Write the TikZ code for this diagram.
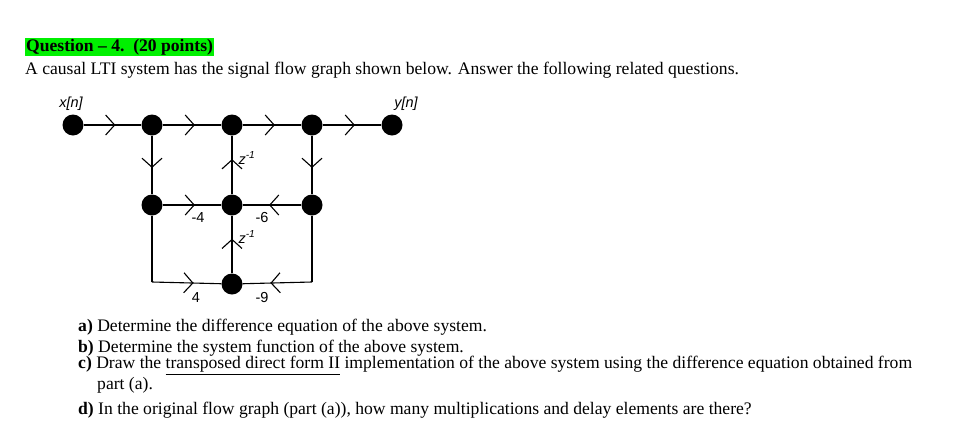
\documentclass[tikz,border=0pt]{standalone}
\usepackage{fontspec}
\setmainfont{Liberation Serif}
\newfontfamily\lsans{Liberation Sans}
\usetikzlibrary{arrows.meta,decorations.markings}
\begin{document}
\begin{tikzpicture}[x=1pt,y=-1pt,
  dot/.style={circle,fill=black,inner sep=0pt,minimum size=21pt},
  edge/.style={line width=1.1pt,postaction={decorate},decoration={markings,mark=at position #1 with {\arrow{Straight Barb[length=9pt,width=20pt,line width=1.1pt]}}}},
  edge/.default=0.55,
  plain/.style={line width=1.1pt},
  lbl/.style={font=\lsans\fontsize{14.5}{16}\selectfont},
  txt/.style={anchor=west,inner sep=0pt,font=\fontsize{17.6}{20.5}\selectfont}]
\useasboundingbox (0,0) rectangle (964,445);
\node[dot] (x) at (73,125) {};
\node[dot] (a) at (152,125) {};
\node[dot] (b) at (232,125) {};
\node[dot] (c) at (312,125) {};
\node[dot] (y) at (392,125) {};
\node[dot] (d) at (152,205) {};
\node[dot] (e) at (232,205) {};
\node[dot] (f) at (312,205) {};
\node[dot] (g) at (232,284) {};
\coordinate (bl) at (152,282);
\coordinate (br) at (312,282);
\draw[edge] (x) -- (a);
\draw[edge] (a) -- (b);
\draw[edge] (b) -- (c);
\draw[edge] (c) -- (y);
\draw[edge] (a) -- (d);
\draw[edge] (c) -- (f);
\draw[edge=0.6] (e) -- (b);
\draw[edge=0.6] (g) -- (e);
\draw[edge] (d) -- (e);
\draw[edge] (f) -- (e);
\draw[plain] (d) -- (bl);
\draw[edge=0.6] (bl) -- (g);
\draw[plain] (f) -- (br);
\draw[edge=0.6] (br) -- (g);
\node[lbl] (lx) at (71,104) {\itshape x[n]};
\node[lbl] (ly) at (406,104) {\itshape y[n]};
\node[lbl] (z1) at (247,158) {\itshape z\textsuperscript{-1}};
\node[lbl] (z2) at (247,237) {\itshape z\textsuperscript{-1}};
\node[lbl] (m4) at (198,218) {-4};
\node[lbl] (m6) at (262,218) {-6};
\node[lbl] (p4) at (196,298) {4};
\node[lbl] (m9) at (262,298) {-9};
\node[txt,fill={rgb,255:red,0;green,240;blue,0},inner sep=1pt] (q) at (25,47) {\bfseries Question -- 4.\ \ (20 points)};
\node[txt] (l2) at (25,70) {A causal LTI system has the signal flow graph shown below. Answer the following related questions.};
\node[txt] (ta) at (78,327) {\bfseries a)\mdseries\ Determine the difference equation of the above system.};
\node[txt] (tb) at (78,348) {\bfseries b)\mdseries\ Determine the system function of the above system.};
\node[txt,anchor=north west,text width=853pt,align=justify] (tc) at (78,356) {\bfseries c)\mdseries\ Draw the \underline{transposed direct form II} implementation of the above system using the difference equation obtained from\\\hspace*{19pt}part (a).};
\node[txt] (td) at (78,410) {\bfseries d)\mdseries\ In the original flow graph (part (a)), how many multiplications and delay elements are there?};
\end{tikzpicture}
\end{document}
